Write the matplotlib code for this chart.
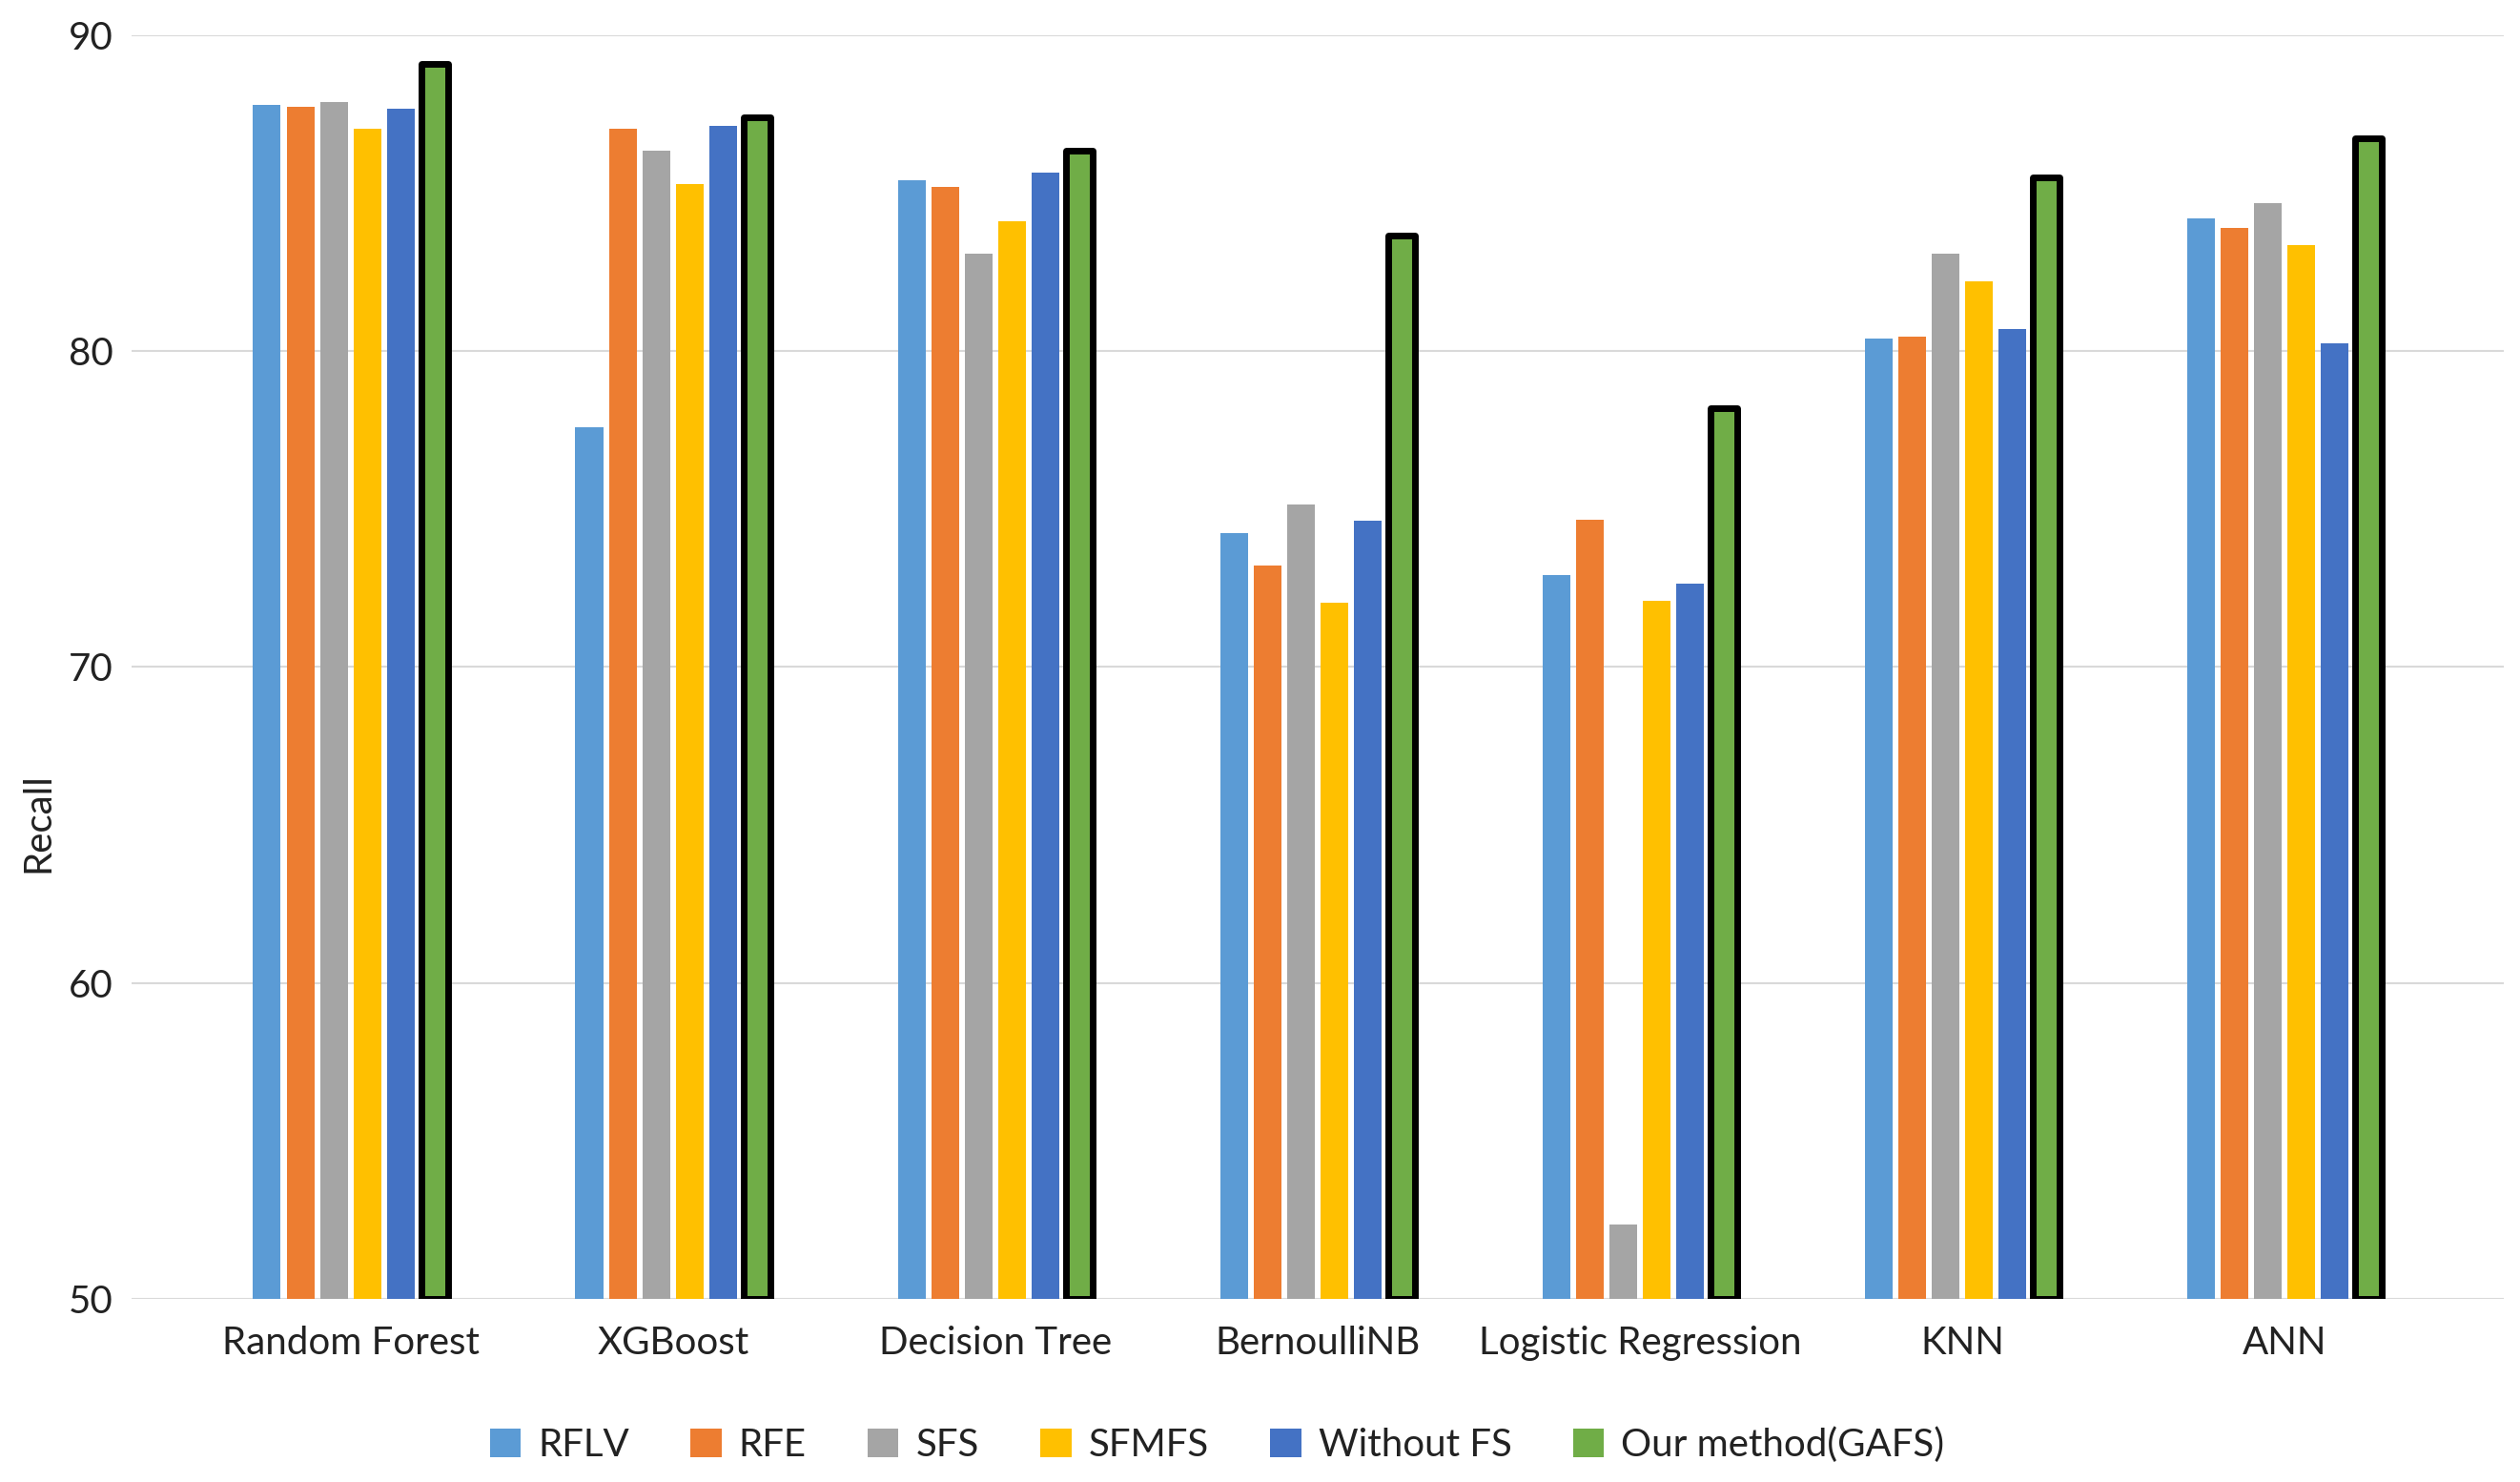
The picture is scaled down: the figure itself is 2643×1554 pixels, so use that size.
import numpy as np
from matplotlib import pyplot as plt

# values (Recall)
models = ['Random Forest', 'XGBoost', 'Decision Tree', 'BernoulliNB',
          'Logistic Regression', 'KNN', 'ANN']
methods = ['RFLV', 'RFE', 'SFS', 'SFMFS', 'Without FS', 'Our method(GAFS)']

rflv = [87.8, 77.6, 85.4, 74.25, 72.9, 80.4, 84.2]
rfe = [87.75, 87.05, 85.2, 73.2, 74.65, 80.45, 83.9]
sfs = [87.9, 86.35, 83.1, 75.15, 52.35, 83.1, 84.7]
sfmfs = [87.05, 85.3, 84.1, 72.05, 72.1, 82.2, 83.35]
without_fs = [87.68, 87.12, 85.65, 74.62, 72.65, 80.7, 80.25]
gafs = [89.1, 87.4, 86.35, 83.65, 78.2, 85.5, 86.75]

colors = ['#5B9BD5', '#ED7D31', '#A5A5A5', '#FFC000', '#4472C4', '#70AD47']


def main():
    plt.rcParams['font.family'] = ['Lato', 'DejaVu Sans']
    fig = plt.figure(figsize=(26.43, 15.54), dpi=100)
    ax = fig.add_axes([0.0522, 0.1236, 0.9414, 0.8526])

    x = np.arange(len(models))
    pitch = 0.104
    series = [rflv, rfe, sfs, sfmfs, without_fs, gafs]
    for i, (vals, name, col) in enumerate(zip(series, methods, colors)):
        offs = (i - 2.5) * pitch
        heights = np.array(vals) - 50
        if i == 5:
            ax.bar(x + offs, heights, width=0.084, bottom=50, color=col,
                   edgecolor='black', linewidth=5, label=name,
                   joinstyle='round', zorder=3)
        else:
            ax.bar(x + offs, heights, width=0.086, bottom=50, color=col,
                   edgecolor='none', label=name, zorder=3)

    ax.set_ylim(50, 90)
    ax.set_xlim(-0.68, 6.68)
    ax.set_yticks([50, 60, 70, 80, 90])
    ax.set_xticks(x)
    ax.set_xticklabels(models)
    ax.yaxis.grid(True, color='#d9d9d9', linewidth=1.5, zorder=0)
    ax.set_axisbelow(True)
    for s in ax.spines.values():
        s.set_visible(False)
    ax.tick_params(axis='both', length=0, labelsize=29, colors='#222222')
    ax.tick_params(axis='x', pad=20)
    ax.tick_params(axis='y', pad=14)

    fig.text(0.015, 0.445, 'Recall', rotation=90, ha='center', va='center',
             fontsize=29, color='#222222')

    # legend with square markers
    proxies = [plt.Rectangle((0, 0), 1, 1, facecolor=c, edgecolor='none')
               for c in colors]
    fig.legend(proxies, methods, loc='center', ncol=6,
               bbox_to_anchor=(0.483, 0.025), frameon=False, fontsize=29,
               handlelength=0.8, handleheight=0.8, handletextpad=0.45,
               columnspacing=1.6, labelcolor='#222222')

    fig.savefig('out.png', dpi=100)


if __name__ == '__main__':
    main()
